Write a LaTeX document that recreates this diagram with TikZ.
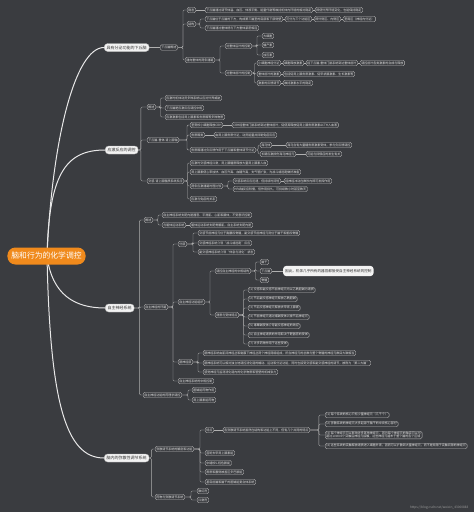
\documentclass[tikz,border=0pt]{standalone}
\usepackage{fontspec}
\setmainfont{Noto Sans CJK SC}
\usetikzlibrary{positioning}

\definecolor{bgdark}{HTML}{3A3C40}
\definecolor{leafline}{HTML}{B8B8B8}
\definecolor{leaftext}{HTML}{E4E4E4}
\definecolor{linkgray}{HTML}{B0B0B0}
\definecolor{branchfill}{HTML}{F2F2F2}
\definecolor{branchtext}{HTML}{333333}
\definecolor{rootorange}{HTML}{F08A1C}
\definecolor{trunkgray}{HTML}{E8E8E8}
\definecolor{wmgray}{HTML}{9A9A9A}

\tikzset{
  leaf/.style={draw=leafline, line width=0.35pt, rounded corners=1.6pt, fill=bgdark, text=leaftext,
    font=\fontsize{3}{3.6}\selectfont, inner xsep=1.3pt, inner ysep=0.6pt, minimum height=5.6pt, anchor=west},
  branch/.style={draw=leafline, line width=0.4pt, rounded corners=3.5pt, fill=branchfill, text=branchtext,
    font=\fontsize{4}{4.8}\selectfont, inner xsep=2.5pt, inner ysep=0.8pt, minimum height=8pt, anchor=west},
  hilite/.style={fill=branchfill, text=branchtext, rounded corners=3pt,
    font=\fontsize{3.6}{4.2}\selectfont, inner xsep=2pt, minimum height=8pt, anchor=west},
  rootnode/.style={fill=rootorange, text=white, rounded corners=8pt,
    font=\fontsize{7.8}{9}\selectfont, inner xsep=4pt, minimum height=17pt},
  link/.style={draw=linkgray, line width=0.4pt, rounded corners=1.2pt},
  trunk/.style={draw=trunkgray, line width=1pt}
}

\begin{document}
\begin{tikzpicture}[x=1pt, y=-1pt]

		% Hintergrund
		\fill[bgdark] (0,0) rectangle (474,512);
		\useasboundingbox (0,0) rectangle (474,512);

		% Hauptzweige
		\coordinate (hub) at (47,256);
		\node[branch] (b1) at (104,47.5) {具有分泌功能的下丘脑};
		\node[branch] (b2) at (105,150) {应激反应的调控};
		\node[branch] (b3) at (105,308) {自主神经系统};
		\node[branch] (b4) at (104,458) {脑内的弥散性调节系统};
		\draw[trunk] (hub) .. controls (52,140) and (75,47.5) .. (b1.west);
		\draw[trunk] (hub) .. controls (49,175) and (65,150) .. (b2.west);
		\draw[trunk] (hub) .. controls (52,295) and (75,308) .. (b3.west);
		\draw[trunk] (hub) .. controls (50,400) and (65,458) .. (b4.west);
		\node[rootnode] (root) at (46.5,256) {脑和行为的化学调控};

		% Zweig 1: Hypothalamus
		\node[leaf] (h) at (160,47.5) {下丘脑概述};
		\node[leaf] (h1) at (187,10) {稳态};
		\node[leaf] (h2) at (187,24) {结构};
		\node[leaf] (h3) at (185,60) {通向垂体的两条通路};
		\node[leaf] (h1a) at (205,10) {下丘脑通过调节体温、血压、体液平衡、能量代谢等维持机体内环境的相对稳定};
		\node[leaf, right=2pt of h1a] (h1b) {即使外界环境变化，也能保持稳定};
		\node[leaf] (h2a) at (205,19) {下丘脑位于丘脑的下方，构成第三脑室的底部和下部侧壁};
		\node[leaf, right=2pt of h2a] (h2b) {可分为三个功能区};
		\node[leaf, right=2pt of h2b] (h2c) {即外侧区、内侧区};
		\node[leaf, right=2pt of h2c] (h2d) {室周区（神经内分泌）};
		\node[leaf] (h2e) at (205,28) {下丘脑通过垂体柄与下方垂体紧密相连};
		\node[leaf] (h3a) at (225,46) {对垂体后叶的控制};
		\node[leaf] (h3b) at (225,73) {对垂体前叶的控制};
		\node[leaf] (h3a1) at (262,36) {大细胞};
		\node[leaf] (h3a2) at (262,45) {催产素};
		\node[leaf] (h3a3) at (262,55) {加压素};
		\node[leaf] (h3b1) at (257,63) {小细胞神经分泌};
		\node[leaf, right=2pt of h3b1] (h3b2) {细胞释放激素};
		\node[leaf, right=2pt of h3b2] (h3b3) {经下丘脑-垂体门脉系统到达垂体前叶};
		\node[leaf, right=2pt of h3b3] (h3b4) {调控前叶各类激素的合成与释放};
		\node[leaf] (h3b5) at (257,74) {垂体前叶的激素};
		\node[leaf, right=2pt of h3b5] (h3b6) {包括促肾上腺皮质激素、促甲状腺激素、生长激素等};
		\node[leaf] (h3b7) at (257,83) {激素的反馈调节};
		\node[leaf, right=2pt of h3b7] (h3b8) {维持激素水平的稳定};

		\draw[link] (b1) -- (h);
		\draw[link] (h.east) -- ++(5pt,0) |- (h1.west);
		\draw[link] (h.east) -- ++(5pt,0) |- (h2.west);
		\draw[link] (h.east) -- ++(5pt,0) |- (h3.west);
		\draw[link] (h1) -- (h1a);
		\draw[link] (h1a) -- (h1b);
		\draw[link] (h2.east) -- ++(4pt,0) |- (h2a.west);
		\draw[link] (h2.east) -- ++(4pt,0) |- (h2e.west);
		\draw[link] (h2a) -- (h2b);
		\draw[link] (h2b) -- (h2c);
		\draw[link] (h2c) -- (h2d);
		\draw[link] (h3.east) -- ++(5pt,0) |- (h3a.west);
		\draw[link] (h3.east) -- ++(5pt,0) |- (h3b.west);
		\draw[link] (h3a.east) -- ++(5pt,0) |- (h3a1.west);
		\draw[link] (h3a.east) -- ++(5pt,0) |- (h3a2.west);
		\draw[link] (h3a.east) -- ++(5pt,0) |- (h3a3.west);
		\draw[link] (h3b.east) -- ++(2.5pt,0) |- (h3b1.west);
		\draw[link] (h3b.east) -- ++(2.5pt,0) |- (h3b5.west);
		\draw[link] (h3b.east) -- ++(2.5pt,0) |- (h3b7.west);
		\draw[link] (h3b1) -- (h3b2);
		\draw[link] (h3b2) -- (h3b3);
		\draw[link] (h3b3) -- (h3b4);
		\draw[link] (h3b5) -- (h3b6);
		\draw[link] (h3b7) -- (h3b8);

		% Zweig 2: Stress
		\node[leaf] (r1) at (147,107) {概述};
		\node[leaf] (r2) at (147,140) {下丘脑-垂体-肾上腺轴};
		\node[leaf] (r3) at (147,181) {交感-肾上腺髓质系统反应};
		\node[leaf] (r1a) at (165,98) {应激时机体动员多种系统以应对外界威胁};
		\node[leaf] (r1b) at (165,108) {下丘脑是应激反应调控中枢};
		\node[leaf] (r1c) at (165,117) {应激激素包括肾上腺素和皮质醇等多种物质};
		\node[leaf] (r2a) at (190,125) {室旁核小细胞释放CRH};
		\node[leaf, right=9pt of r2a] (r2b) {CRH经垂体门脉系统到达垂体前叶，促使其释放促肾上腺皮质激素ACTH入血液};
		\node[leaf] (r2c) at (190,135) {皮质醇类};
		\node[leaf, right=9pt of r2c] (r2d) {由肾上腺皮质分泌，动员能量并抑制免疫反应};
		\node[leaf] (r2e) at (190,150) {皮质醇通过负反馈作用于下丘脑和垂体调节分泌};
		\node[leaf] (r2e1) at (260,145) {海马体};
		\node[leaf, right=14pt of r2e1] (r2e2) {海马含有大量糖皮质激素受体，参与负反馈调控};
		\node[leaf] (r2e3) at (260,154) {长期应激损伤海马神经元};
		\node[leaf, right=10pt of r2e3] (r2e4) {可能与抑郁症的发生有关};
		\node[leaf] (r3a) at (190,163) {应激时交感神经兴奋，肾上腺髓质释放大量肾上腺素入血};
		\node[leaf] (r3b) at (190,172) {肾上腺素使心率加快、血压升高、血糖升高，支气管扩张，为战斗或逃跑做好准备};
		\node[leaf] (r3c) at (190,186) {两条应激通路时程比较};
		\node[leaf] (r3c1) at (233,181) {交感系统反应迅速，但持续时间短};
		\node[leaf, right=3pt of r3c1] (r3c2) {经神经冲动在数秒内即可发挥作用};
		\node[leaf] (r3c3) at (233,189) {HPA轴反应较慢，但作用持久，可持续数小时甚至数天};
		\node[leaf] (r3d) at (190,199) {应激与免疫的关系};

		\draw[link] (b2.east) -- ++(2.5pt,0) |- (r1.west);
		\draw[link] (b2.east) -- ++(2.5pt,0) |- (r2.west);
		\draw[link] (b2.east) -- ++(2.5pt,0) |- (r3.west);
		\draw[link] (r1.east) -- ++(4.5pt,0) |- (r1a.west);
		\draw[link] (r1.east) -- ++(4.5pt,0) |- (r1b.west);
		\draw[link] (r1.east) -- ++(4.5pt,0) |- (r1c.west);
		\draw[link] (r2.east) -- ++(8pt,0) |- (r2a.west);
		\draw[link] (r2.east) -- ++(8pt,0) |- (r2c.west);
		\draw[link] (r2.east) -- ++(8pt,0) |- (r2e.west);
		\draw[link] (r2a) -- (r2b);
		\draw[link] (r2c) -- (r2d);
		\draw[link] (r2e.east) -- ++(2.2pt,0) |- (r2e1.west);
		\draw[link] (r2e.east) -- ++(2.2pt,0) |- (r2e3.west);
		\draw[link] (r2e1) -- (r2e2);
		\draw[link] (r2e3) -- (r2e4);
		\draw[link] (r3.east) -- ++(3.5pt,0) |- (r3a.west);
		\draw[link] (r3.east) -- ++(3.5pt,0) |- (r3b.west);
		\draw[link] (r3.east) -- ++(3.5pt,0) |- (r3c.west);
		\draw[link] (r3.east) -- ++(3.5pt,0) |- (r3d.west);
		\draw[link] (r3c.east) -- ++(5pt,0) |- (r3c1.west);
		\draw[link] (r3c.east) -- ++(5pt,0) |- (r3c3.west);
		\draw[link] (r3c1) -- (r3c2);

		% Zweig 3: autonomes Nervensystem
		\node[leaf] (a1) at (144,220) {概述};
		\node[leaf] (a2) at (144,307) {自主神经的环路};
		\node[leaf] (a3) at (143,395) {自主神经功能的药理学调控};
		\node[leaf] (a1a) at (162,215) {自主神经系统支配内脏器官、平滑肌、心肌和腺体，不受意识控制};
		\node[leaf] (a1b) at (162,225) {与躯体运动系统};
		\node[leaf, right=4pt of a1b] (a1c) {躯体运动系统支配骨骼肌，自主系统支配内脏};
		\node[leaf] (a21) at (178,244) {分部};
		\node[leaf] (a21a) at (198,233) {交感节前神经元位于胸腰段脊髓，副交感节前神经元则位于脑干和骶段脊髓};
		\node[leaf] (a21b) at (198,243) {交感神经系统介导“战斗或逃跑”反应};
		\node[leaf] (a21c) at (198,252) {副交感神经系统介导“休息与消化”状态};
		\node[leaf] (a22) at (178,302) {自主神经功能组织};
		\node[leaf] (a221) at (215,271) {调控自主神经的中枢结构};
		\node[leaf] (a221a) at (260,262) {脑干};
		\node[leaf] (a221b) at (260,271) {下丘脑};
		\node[leaf] (a221c) at (260,280) {脊髓};
		\node[hilite, right=11pt of a221b] (note) {因此，机体几乎所有的器官都接受自主神经系统的控制};
		\node[leaf] (a222) at (215,315) {递质与受体特点};
		\node[leaf] (p1) at (248,290) {(1) 交感和副交感节前神经元均以乙酰胆碱为递质};
		\node[leaf] (p2) at (248,299) {(2) 节后副交感神经元释放乙酰胆碱};
		\node[leaf] (p3) at (248,308) {(3) 节后交感神经元释放去甲肾上腺素};
		\node[leaf] (p4) at (248,317) {(4) 节前神经元通过烟碱受体兴奋节后神经元};
		\node[leaf] (p5) at (248,326) {(5) 毒蕈碱受体介导副交感神经的效应};
		\node[leaf] (p6) at (248,335) {(6) 自主神经递质的作用取决于靶器官的受体};
		\node[leaf] (p7) at (248,344) {(7) 许多药物作用于这些受体};
		\node[leaf] (a23) at (178,362) {肠神经部};
		\node[leaf] (a23a) at (203,353) {肠神经系统由肌间神经丛和黏膜下神经丛两个神经网络组成，所含神经元的总数与整个脊髓的神经元数目大致相当};
		\node[leaf] (a23b) at (203,363) {肠神经系统可以相对独立地调控消化道的蠕动、运动和分泌功能，同时也接受交感和副交感神经的调节，被称为“第二大脑”};
		\node[leaf] (a23c) at (203,372) {感觉神经元监测消化道内的化学物质和管壁的机械张力};
		\node[leaf] (a24) at (178,381) {自主神经系统的中枢控制};
		\node[leaf] (a3a) at (192,390) {胆碱能药物作用};
		\node[leaf] (a3b) at (192,400) {肾上腺素能药物};

		\draw[link] (b3.east) -- ++(5pt,0) |- (a1.west);
		\draw[link] (b3.east) -- ++(5pt,0) |- (a2.west);
		\draw[link] (b3.east) -- ++(5pt,0) |- (a3.west);
		\draw[link] (a1.east) -- ++(5pt,0) |- (a1a.west);
		\draw[link] (a1.east) -- ++(5pt,0) |- (a1b.west);
		\draw[link] (a1b) -- (a1c);
		\draw[link] (a2.east) -- ++(5pt,0) |- (a21.west);
		\draw[link] (a2.east) -- ++(5pt,0) |- (a22.west);
		\draw[link] (a2.east) -- ++(5pt,0) |- (a23.west);
		\draw[link] (a2.east) -- ++(5pt,0) |- (a24.west);
		\draw[link] (a21.east) -- ++(6pt,0) |- (a21a.west);
		\draw[link] (a21.east) -- ++(6pt,0) |- (a21b.west);
		\draw[link] (a21.east) -- ++(6pt,0) |- (a21c.west);
		\draw[link] (a22.east) -- ++(5pt,0) |- (a221.west);
		\draw[link] (a22.east) -- ++(5pt,0) |- (a222.west);
		\draw[link] (a221.east) -- ++(4.5pt,0) |- (a221a.west);
		\draw[link] (a221.east) -- ++(4.5pt,0) |- (a221b.west);
		\draw[link] (a221.east) -- ++(4.5pt,0) |- (a221c.west);
		\draw[link] (a221b) -- (note);
		\draw[link] (a222.east) -- ++(4.5pt,0) |- (p1.west);
		\draw[link] (a222.east) -- ++(4.5pt,0) |- (p2.west);
		\draw[link] (a222.east) -- ++(4.5pt,0) |- (p3.west);
		\draw[link] (a222.east) -- ++(4.5pt,0) |- (p4.west);
		\draw[link] (a222.east) -- ++(4.5pt,0) |- (p5.west);
		\draw[link] (a222.east) -- ++(4.5pt,0) |- (p6.west);
		\draw[link] (a222.east) -- ++(4.5pt,0) |- (p7.west);
		\draw[link] (a23.east) -- ++(5pt,0) |- (a23a.west);
		\draw[link] (a23.east) -- ++(5pt,0) |- (a23b.west);
		\draw[link] (a23.east) -- ++(5pt,0) |- (a23c.west);
		\draw[link] (a3.east) -- ++(6pt,0) |- (a3a.west);
		\draw[link] (a3.east) -- ++(6pt,0) |- (a3b.west);

		% Zweig 4: diffuse Modulation
		\node[leaf] (d1) at (155,449) {弥散调节系统的解剖和功能};
		\node[leaf] (d2) at (155,497) {药物与弥散调节系统};
		\node[leaf] (d11) at (205,430) {特点};
		\node[leaf, right=9pt of d11] (d11a) {各弥散调节系统虽然在结构和功能上不同，但有几个共同的特点};
		\node[leaf] (q1) at (325,415) {(1) 每个系统的核心只有少量神经元（几千个）};
		\node[leaf] (q2) at (325,424) {(2) 弥散系统的神经元大多起源于脑干的中央核心部分};
		\node[leaf, align=left] (q3) at (325,435) {(3) 每个神经元可以影响许多其他神经元，因为每个神经元的轴突可以与\\超过100000个突触后神经元接触，这些神经元遍布于整个脑的各个区域};
		\node[leaf] (q4) at (325,446) {(4) 这些系统的突触释放递质进入细胞外液，因而可以扩散到大量神经元，而不是局限于突触间隙的神经元};
		\node[leaf] (d12) at (205,453) {蓝斑去甲肾上腺素能};
		\node[leaf] (d13) at (205,463) {中缝核5-羟色胺能};
		\node[leaf] (d14) at (205,472) {黑质和腹侧被盖区多巴胺能};
		\node[leaf] (d15) at (205,482) {基底前脑和脑干的胆碱能复合体系统};
		\node[leaf] (d21) at (197,491) {致幻剂};
		\node[leaf] (d22) at (197,500) {兴奋剂};

		\draw[link] (b4.east) -- ++(2pt,0) |- (d1.west);
		\draw[link] (b4.east) -- ++(2pt,0) |- (d2.west);
		\draw[link] (d1.east) -- ++(6pt,0) |- (d11.west);
		\draw[link] (d1.east) -- ++(6pt,0) |- (d12.west);
		\draw[link] (d1.east) -- ++(6pt,0) |- (d13.west);
		\draw[link] (d1.east) -- ++(6pt,0) |- (d14.west);
		\draw[link] (d1.east) -- ++(6pt,0) |- (d15.west);
		\draw[link] (d11) -- (d11a);
		\draw[link] (d11a.east) -- ++(9pt,0) |- (q1.west);
		\draw[link] (d11a.east) -- ++(9pt,0) |- (q2.west);
		\draw[link] (d11a.east) -- ++(9pt,0) |- (q3.west);
		\draw[link] (d11a.east) -- ++(9pt,0) |- (q4.west);
		\draw[link] (d2.east) -- ++(6pt,0) |- (d21.west);
		\draw[link] (d2.east) -- ++(6pt,0) |- (d22.west);

		% Wasserzeichen
		\node[font=\fontsize{3.2}{4}\selectfont, text=wmgray, anchor=east] (wm) at (472,508) {https://blog.csdn.net/weixin\_43000883};

	\end{tikzpicture}
\end{document}
